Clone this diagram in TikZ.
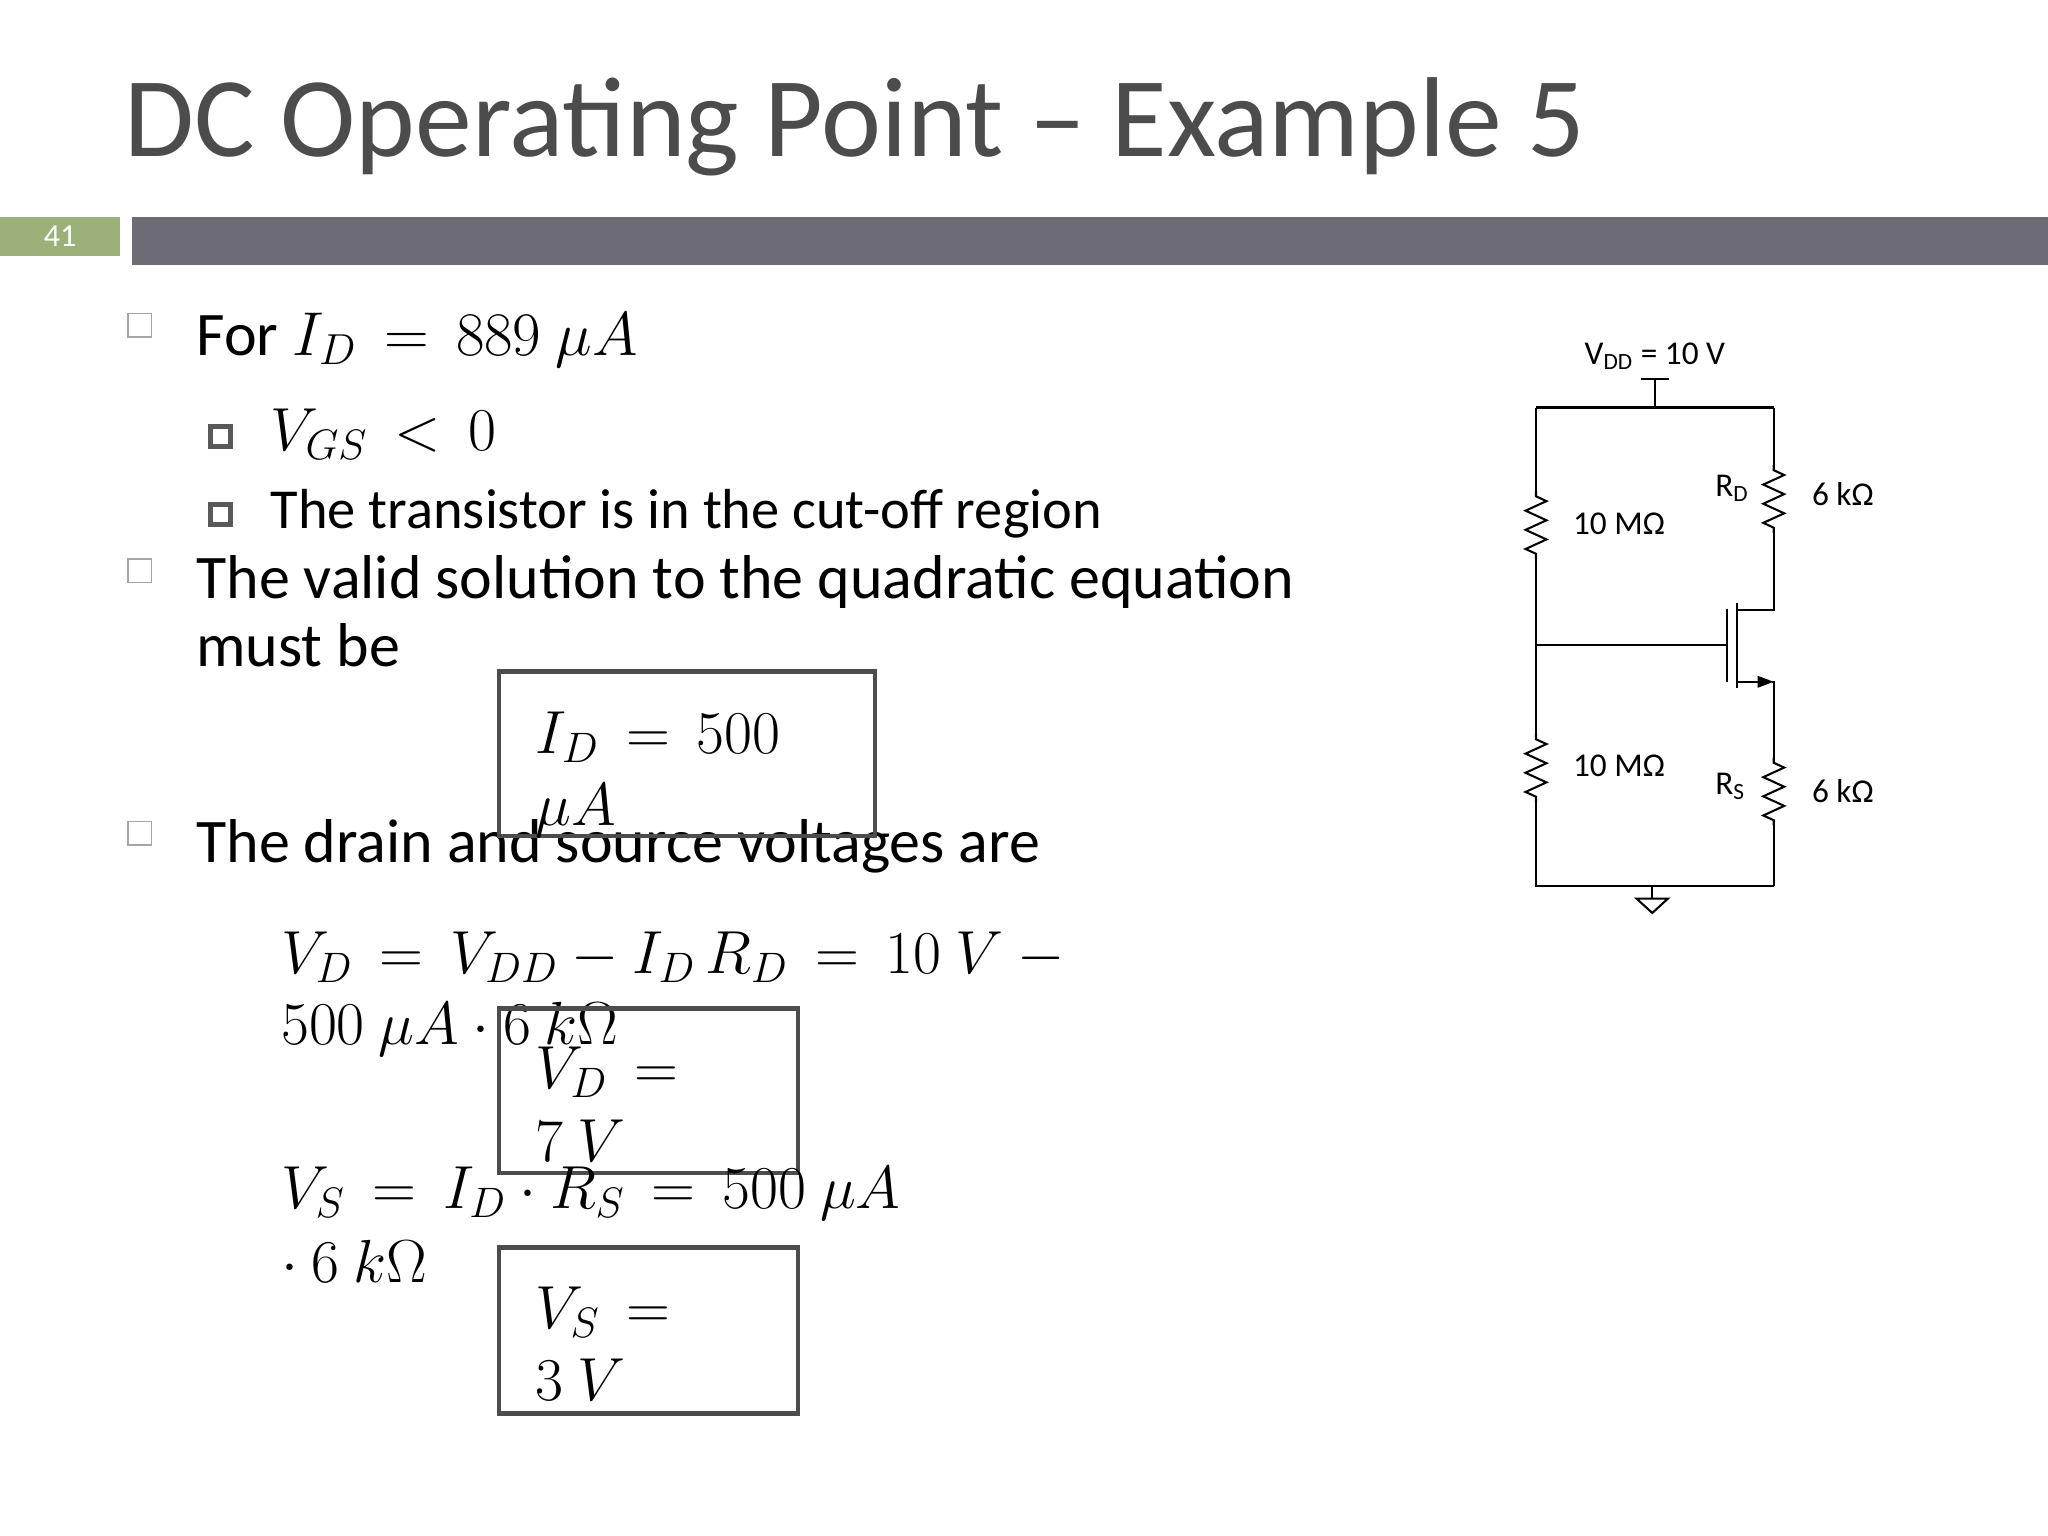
\RequirePackage{fix-cm}
\documentclass[tikz,border=0pt]{standalone}
\usepackage{fontspec}
\setmainfont{Carlito}
\usetikzlibrary{arrows.meta,positioning,calc}

\definecolor{bargray}{HTML}{6D6C75}
\definecolor{pagegreen}{HTML}{9CB07A}
\tikzset{
  bul/.style={draw=gray!70, line width=0.6pt, minimum size=0.36cm, inner sep=0pt},
  subbul/.style={draw=gray!70!black, line width=2.2pt, minimum size=0.3cm, inner sep=0pt},
  txt/.style={anchor=base west, inner sep=0pt, font=\fontsize{24.6}{30}\selectfont},
  big/.style={txt, font=\fontsize{27}{32}\selectfont},
  mth/.style={anchor=base west, inner sep=0pt, font=\fontsize{26.5}{32}\selectfont},
  ans/.style={draw=black!70, line width=2pt},
  cir/.style={font=\fontsize{14.5}{17}\selectfont, inner sep=0pt},
  wire/.style={line width=0.9pt}
}
\newcommand{\zig}[3]{% x, ytop, ybottom
  \draw[wire] (#1,#2) -- ++(0,4)
    -- ++(8,{(#3-#2-8)/12}) -- ++(-16,{(#3-#2-8)/6}) -- ++(16,{(#3-#2-8)/6})
    -- ++(-16,{(#3-#2-8)/6}) -- ++(16,{(#3-#2-8)/6}) -- ++(-16,{(#3-#2-8)/6})
    -- ++(8,{(#3-#2-8)/12}) -- (#1,#3);}

\begin{document}
\begin{tikzpicture}[x=0.02cm,y=-0.02cm]
  \useasboundingbox (0,0) rectangle (1568,1176);
  % title and bar
  \node[anchor=base west, inner sep=0pt, text=black!70, font=\fontsize{49.5}{60}\selectfont] (title) at (95,120) {DC Operating Point – Example 5};
  \fill[pagegreen] (0,166) rectangle (92,196);
  \node[text=white, font=\fontsize{14}{16}\selectfont] (pg) at (46,181) {41};
  \fill[bargray] (101,166) rectangle (1568,203);

  % bullets
  \node[bul] (b1) at (107,249) {};
  \node[big] (t1) at (150,272) {For $I_D\,=\,889\ \mu A$};
  \node[subbul] (s1) at (169,334) {};
  \node[mth] (t2) at (207,345) {$V_{GS}\,<\,0$};
  \node[subbul] (s2) at (169,394) {};
  \node[txt] (t3) at (207,405) {The transistor is in the cut-off region};
  \node[bul] (b2) at (107,437) {};
  \node[big] (t4) at (150,458) {The valid solution to the quadratic equation};
  \node[big] (t5) at (150,510) {must be};
  \node[bul] (b3) at (107,638) {};
  \node[big] (t6) at (150,660) {The drain and source voltages are};

  % answer boxes
  \draw[ans] (382,514) rectangle (670,640);
  \node[mth] (a1) at (410,577) {$I_D\,=\,500$};
  \node[mth] (a2) at (410,632) {$\mu A$};

  \node[mth] (e1) at (215,745) {$V_D\,=\,V_{DD}-I_D\,R_D\,=\,10\ V\ -$};
  \node[mth] (e2) at (215,800) {$500\ \mu A\cdot 6\ k\Omega$};
  \draw[ans] (382,772) rectangle (611,898);
  \node[mth] (a3) at (410,833) {$V_D\,=$};
  \node[mth] (a4) at (410,889) {$7\ V$};

  \node[mth] (e3) at (215,925) {$V_S\,=\,I_D\cdot R_S\,=\,500\ \mu A$};
  \node[mth] (e4) at (215,982) {$\cdot\ 6\ k\Omega$};
  \draw[ans] (382,955) rectangle (611,1082);
  \node[mth] (a5) at (410,1017) {$V_S\,=$};
  \node[mth] (a6) at (410,1072) {$3\ V$};

  % circuit
  \node[cir, anchor=base] (vdd) at (1267,279) {V\textsubscript{DD} = 10 V};
  \draw[wire] (1256,290) -- (1278,290) (1267,290) -- (1267,312);
  \draw[wire] (1176,312) -- (1358,312);
  \draw[wire] (1176,312) -- (1176,376);
  \zig{1176}{376}{428}
  \draw[wire] (1176,428) -- (1176,562);
  \zig{1176}{562}{614}
  \draw[wire] (1176,614) -- (1176,678) -- (1358,678);
  \draw[wire] (1176,494) -- (1322,494);
  \draw[wire] (1322,466) -- (1322,522);
  \draw[wire] (1330,462) -- (1330,527);
  \draw[wire] (1358,312) -- (1358,356);
  \zig{1358}{356}{408}
  \draw[wire] (1358,408) -- (1358,467) -- (1330,467);
  \draw[wire,-{Triangle[length=7pt,width=5pt]}] (1330,522) -- (1358,522);
  \draw[wire] (1357,522) -- (1358,522) -- (1358,580);
  \zig{1358}{580}{632}
  \draw[wire] (1358,632) -- (1358,678);
  \draw[wire] (1265,678) -- (1265,688);
  \draw[wire] (1253,688) -- (1277,688) -- (1265,699) -- cycle;
  \node[cir, anchor=west] (r1) at (1204,401) {10 MΩ};
  \node[cir, anchor=west] (r2) at (1204,586) {10 MΩ};
  \node[cir, anchor=west] (rd) at (1313,374) {R\textsubscript{D}};
  \node[cir, anchor=west] (rs) at (1313,602) {R\textsubscript{S}};
  \node[cir, anchor=west] (v1) at (1387,378) {6 kΩ};
  \node[cir, anchor=west] (v2) at (1387,606) {6 kΩ};
\end{tikzpicture}
\end{document}
